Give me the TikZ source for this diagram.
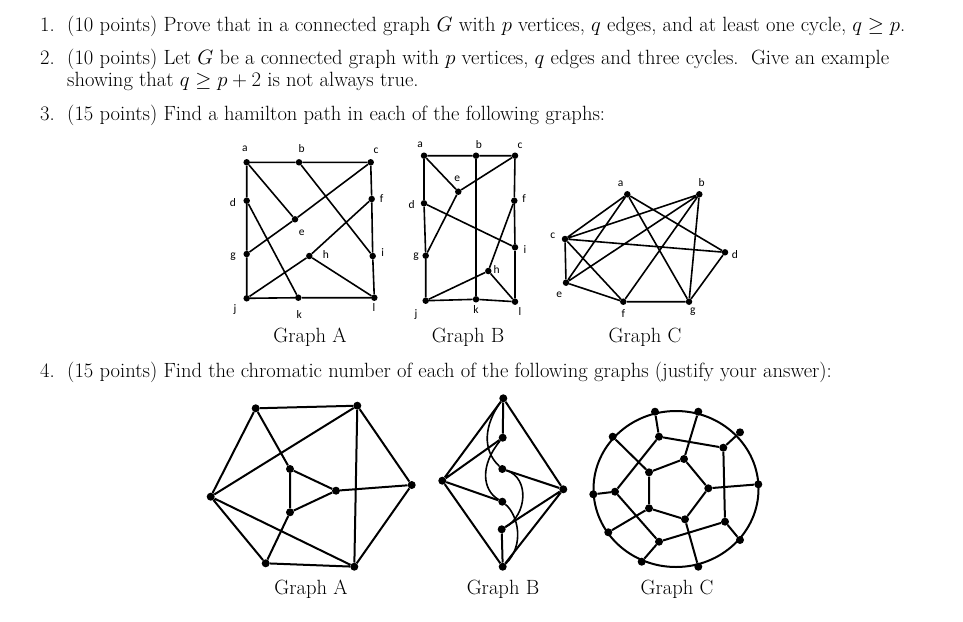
\documentclass[tikz,border=0pt]{standalone}
\usepackage{fontspec}
\newfontfamily\lab{Carlito}
\begin{document}
\begin{tikzpicture}[x=1pt,y=-1pt,
  txt/.style={anchor=base west,inner sep=0,font=\fontsize{20.6}{22}\selectfont},
  captxt/.style={anchor=base,inner sep=0,font=\fontsize{20.6}{22}\selectfont},
  vs/.style={circle,fill,inner sep=0,minimum size=6.5pt},
  vb/.style={circle,fill,inner sep=0,minimum size=8pt},
  lb/.style={inner sep=0,font=\lab\fontsize{11.5}{12}\selectfont},
  es/.style={line width=1.6pt},
  eb/.style={line width=2pt}]
\useasboundingbox (0,0) rectangle (963,621);
\node[txt] (t1) at (40,31) {1.~~(10 points) Prove that in a connected graph $G$ with $p$ vertices, $q$ edges, and at least one cycle, $q\geq p$.};
\node[txt] (t2) at (40,64) {2.~~(10 points) Let $G$ be a connected graph with $p$ vertices, $q$ edges and three cycles.\ \ Give an example};
\node[txt] (t2b) at (67,86) {showing that $q\geq p+2$ is not always true.};
\node[txt] (t3) at (40,120) {3.~~(15 points) Find a hamilton path in each of the following graphs:};
\node[txt] (t4) at (40,377) {4.~~(15 points) Find the chromatic number of each of the following graphs (justify your answer):};
% Graph A (3)
\foreach \n/\x/\y in {a/246.7/162.3,b/299/162.3,c/370.7/162.3,d/246.7/200.7,f/371.7/199,e/295/219.3,g/246.7/254,h/309.3/256,i/372.7/256,j/246.7/298.3,k/298.3/297.7,l/374.3/297.7}
  \node[vs] (A\n) at (\x,\y) {};
\draw[es] (Aa)--(Ab)--(Ac)--(Af)--(Ai)--(Al)--(Ak)--(Aj)--(Ag)--(Ad)--(Aa);
\draw[es] (Aa)--(Ae) (Ac)--(Ae)--(Ag) (Ab)--(Ai) (Ad)--(Ak) (Af)--(Ah)--(Aj) (Ah)--(Al);
\foreach \n/\x/\y in {a/245/149,b/301.7/149,c/376/151,d/233/203,f/381.7/199,e/301.7/232.7,g/233/256.7,h/326/255,i/382.7/253,j/235/309.3,k/299.3/315,l/374/308}
  \node[lb] (LA\n) at (\x,\y) {\n};
% Graph B (3)
\foreach \n/\x/\y in {a/424/155.7,b/476/155.7,c/515/155.7,e/458.3/191.7,d/424/203.3,f/514.3/200.7,i/515/247.3,g/425.7/255.7,h/488.3/271,j/425.7/300.7,k/476/299.3,l/515/301.7}
  \node[vs] (B\n) at (\x,\y) {};
\draw[es] (Ba)--(Bb)--(Bc)--(Bf)--(Bi)--(Bl)--(Bk)--(Bj)--(Bg)--(Bd)--(Ba);
\draw[es] (Bb)--(Bk) (Ba)--(Be)--(Bc) (Be)--(Bg) (Bd)--(Bi) (Bj)--(Bh)--(Bf) (Bh)--(Bl);
\foreach \n/\x/\y in {a/420/145,b/479/144.3,c/520/145.7,e/457.3/178.3,d/411.7/204.3,f/524/199,i/525/250,g/416/256.7,h/496.7/270,j/416/315,k/476/310,l/520/311.7}
  \node[lb] (LB\n) at (\x,\y) {\n};
% Graph C (3)
\foreach \n/\x/\y in {a/627.3/194.3,b/699.3/194.3,c/565/239,d/725/252.3,e/566/282.7,f/623.3/301.7,g/689/301.7}
  \node[vs] (C\n) at (\x,\y) {};
\draw[es] (Ca)--(Cc) (Ca)--(Ce) (Ca)--(Cg) (Ca)--(Cd) (Cb)--(Cc) (Cb)--(Ce) (Cb)--(Cf) (Cb)--(Cg)
  (Cc)--(Cd) (Cc)--(Ce) (Cc)--(Cf) (Ce)--(Cf) (Cf)--(Cg) (Cg)--(Cd);
\foreach \n/\x/\y in {a/620.7/183.3,b/701.7/182.3,c/552.7/236,d/735/255,e/559.3/295,f/623.3/313.3,g/692.7/311.7}
  \node[lb] (LC\n) at (\x,\y) {\n};
\node[captxt] (c3a) at (310,342) {Graph A};
\node[captxt] (c3b) at (468,342) {Graph B};
\node[captxt] (c3c) at (645,342) {Graph C};
% Graph A (4)
\foreach \n/\x/\y in {1/255.7/408.3,2/357.3/405.7,3/411.7/485,4/354.3/566.7,5/265.7/563.3,6/210.7/496.7,7/290/469,8/336/490.7,9/290/512.3}
  \node[vb] (D\n) at (\x,\y) {};
\draw[eb] (D1)--(D2)--(D3)--(D4)--(D5)--(D6)--(D1) (D6)--(D2) (D6)--(D4) (D2)--(D4)
  (D1)--(D7)--(D8)--(D9)--(D7) (D8)--(D3) (D9)--(D5);
% Graph B (4)
\foreach \n/\x/\y in {t/503.3/398.3,1/502.7/437.7,2/502.3/469,3/502.3/501.7,4/501.7/529.3,b/502.7/566.7,l/442.3/480.7,r/563.3/489.3}
  \node[vb] (E\n) at (\x,\y) {};
\draw[eb] (Et)--(El)--(Eb)--(Er)--(Et) (Et)--(E1) (E4)--(Eb) (El)--(E1) (El)--(E3) (Er)--(E2) (Er)--(E4);
\draw[line width=1.6pt] (Et) .. controls (484,425) and (482,450) .. (E2);
\draw[line width=1.6pt] (E1) .. controls (480,465) and (482,490) .. (E3);
\draw[line width=1.6pt] (E2) .. controls (530,478) and (527,515) .. (E4);
\draw[line width=1.6pt] (E3) .. controls (518,515) and (525,545) .. (Eb);
% Graph C (4)
\draw[eb] (676,489) ellipse [x radius=82.5, y radius=78];
\foreach \n/\x/\y in {o1/655/411.7,o2/698.3/411.7,o3/740/432.3,o4/758.3/484.3,o5/740/540,o6/698.3/566.7,o7/641.7/561.7,o8/608.3/532.3,o9/593.3/494.3,o10/612.7/436.7,
  m1/659/436.7,m2/723.3/447.7,m3/725/521.7,m4/659/541.7,m5/615/491.7,
  p1/684/459,p2/708.3/488.3,p3/685/519.3,p4/649/508.3,p5/649/472.3}
  \node[vb] (F\n) at (\x,\y) {};
\draw[eb] (Fo1)--(Fm1) (Fo3)--(Fm2) (Fo5)--(Fm3) (Fo7)--(Fm4) (Fo9)--(Fm5)
  (Fo2)--(Fp1) (Fo4)--(Fp2) (Fo6)--(Fp3) (Fo8)--(Fp4) (Fo10)--(Fp5)
  (Fm1)--(Fm2)--(Fm3)--(Fm4)--(Fm5)--(Fm1) (Fp1)--(Fp2)--(Fp3)--(Fp4)--(Fp5)--(Fp1);
\node[captxt] (c4a) at (311,594) {Graph A};
\node[captxt] (c4b) at (503,594) {Graph B};
\node[captxt] (c4c) at (677,594) {Graph C};
\end{tikzpicture}
\end{document}
